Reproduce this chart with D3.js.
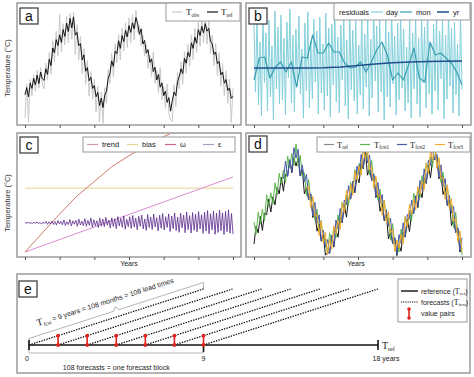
<!DOCTYPE html>
<html>
<head>
<meta charset="utf-8">
<script src="https://cdn.jsdelivr.net/npm/d3@7"></script>
<style>
  body { margin: 0; background: #fff; }
  svg { display: block; font-family: "Liberation Sans", Arial, sans-serif; }
</style>
</head>
<body>
<div id="chart"></div>
<script>
/* CONSTANTS */
const width = 474, height = 377;
const yearTicks = [0, 1, 2, 3, 4, 5, 6];

/* DATA */
// panel a: reference and observed temperature (°C)
const tRefA = [2.3,4.1,1.8,5.2,3.9,6.4,4.8,7.2,5.1,8.0,6.3,5.9,8.8,7.4,11.2,9.6,14.0,12.8,16.1,14.6,17.3,
  15.4,18.6,16.9,20.2,18.1,21.4,19.0,21.8,17.2,17.9,14.6,15.1,11.0,12.3,8.2,9.1,5.8,6.7,3.9,
  4.6,1.8,2.9,-0.4,1.5,-0.9,2.2,3.1,6.4,7.6,10.8,9.4,13.2,12.6,15.8,13.9,17.1,15.6,
  18.4,16.8,19.6,17.9,20.3,18.8,21.6,20.1,17.4,18.8,15.0,15.9,12.7,13.6,10.4,11.3,8.1,9.2,6.0,
  7.4,4.2,5.3,2.1,3.2,0.4,1.6,-1.8,0.9,3.0,2.1,5.6,6.9,8.8,7.6,11.4,10.2,12.9,11.8,15.3,13.9,
  16.7,15.2,18.6,17.1,19.4,17.8,20.1,18.2,18.9,15.7,15.1,12.4,13.0,10.1,10.6,7.3,8.0,5.2,6.1,3.4,4.0,1.4,1.9];
const tObsA = [-3.5,5.0,-4.6,6.1,2.0,7.3,3.2,8.4,4.0,9.1,5.0,3.8,10.2,6.1,12.9,7.4,15.8,10.6,18.2,12.1,22.5,
  13.0,20.1,14.8,21.9,15.3,22.6,16.2,23.0,12.4,19.8,11.0,16.9,7.5,13.8,4.9,10.9,2.0,8.1,1.2,
  6.2,-2.0,4.4,-4.5,3.0,-4.8,4.1,0.2,8.6,5.1,12.7,6.8,15.1,10.3,17.4,11.0,19.0,13.2,
  20.3,14.1,21.5,15.2,22.4,16.0,23.4,17.9,19.6,14.5,17.1,12.0,14.8,8.9,12.2,6.9,12.9,5.1,8.3,
  2.8,9.1,1.0,4.4,-1.1,5.0,-2.4,-4.0,-4.4,4.8,-0.6,7.9,3.8,10.5,4.9,13.1,7.7,15.0,9.4,17.2,11.1,
  18.9,12.8,20.6,14.4,21.7,15.3,22.1,15.0,21.0,12.6,17.2,9.6,15.1,7.0,12.8,4.4,10.2,2.1,8.3,0.2,6.2,-4.6,3.9];

// panel b: residuals
const resDay = [3.9,-2.8,4.6,-4.1,2.2,-5.2,5.0,-1.9,3.1,-4.7,4.4,-3.3,1.8,-5.6,5.3,-2.5,3.7,-4.0,4.9,-3.6,
  2.6,-5.1,4.2,-1.4,5.5,-3.9,2.9,-4.8,3.5,-2.2,4.8,-3.0,1.5,-5.4,4.1,-2.7,5.2,-4.4,2.3,-3.5,
  4.5,-1.8,3.3,-5.0,4.7,-2.9,2.0,-4.6,5.1,-3.2,3.6,-5.3,4.0,-2.1,5.4,-3.8,2.7,-4.9,3.9,-1.6,
  4.6,-4.2,2.4,-5.5,5.0,-2.6,3.4,-3.7,4.3,-5.0,1.9,-3.1,5.3,-4.5,3.0,-2.3,4.8,-5.2,2.5,-3.4,
  5.6,-1.7,3.8,-4.8,4.4,-2.8,2.1,-5.6,4.9,-3.3,3.2,-4.3,5.5,-2.0,2.8,-5.1,4.1,-3.6,5.2,-2.4,
  3.5,-4.7,1.7,-3.9,4.7,-5.4,3.1,-2.5,5.0,-4.0,2.6,-5.3,4.5,-1.9,3.7,-4.4,5.4,-3.0,2.2,-5.0,
  4.0,-2.7,5.1,-4.6,3.3,-1.5,4.6,-5.5,2.9,-3.5,5.3,-2.2,3.6,-4.9,4.2,-3.1,2.0,-5.2,4.8,-2.6];
const resMon = [-1.6,0.6,0.7,-1.4,-0.3,0.2,-0.8,0.2,-2.3,0.7,0.6,2.9,1.1,1.1,2.1,1.2,1.2,0.1,-0.4,-0.3,
  0.2,-0.8,0.2,1.4,2.2,0.9,-1.6,-0.9,-1.6,-0.1,1.6,-1.4,-1.8,2.2,0.9,1.1,0.6,0.1,-0.8,-2.1];
const resYr = [-0.4,-0.4,-0.4,-0.4,-0.38,-0.3,-0.15,0.0,0.12,0.2,0.25,0.28,0.3];

// panel c: components
const trendC = [0.0,1.7,3.4,5.0,6.3,7.6,8.6,9.5,10.3,11.0,11.6,12.1,12.5];
const biasC = [5.7, 5.7];
const omegaC = [0.0, 6.7];
const epsC = [2.62,2.58,2.65,2.56,2.61,2.55,2.67,2.57,2.70,2.52,2.64,2.49,2.66,2.55,2.73,2.47,2.69,2.51,2.76,2.46,
  2.72,2.40,2.81,2.50,2.74,2.43,2.86,2.37,2.70,2.45,2.90,2.33,2.78,2.48,2.84,2.29,2.93,2.41,2.75,2.36,
  2.98,2.30,2.82,2.39,3.04,2.22,2.88,2.35,2.79,2.19,3.02,2.31,2.94,2.26,3.10,2.40,2.86,2.14,3.05,2.28,
  2.97,2.09,3.16,2.33,3.00,2.20,3.22,2.04,2.92,2.27,3.14,2.11,3.26,2.23,3.03,1.99,3.19,2.30,3.30,2.06,
  2.95,1.94,3.34,2.18,3.11,2.01,3.38,2.24,3.07,1.88,3.29,2.12,3.44,1.97,3.15,2.20,3.40,1.83,3.21,2.08,
  3.49,1.91,3.12,1.76,3.46,2.15,3.30,1.72,3.57,2.00,3.25,1.69,3.52,1.95,3.38,1.80,3.61,2.06,3.33,1.66,
  3.55,1.86,3.70,1.62,3.41,1.98,3.66,1.58,3.47,1.74,3.73,1.90,3.50,1.55,3.63,1.81,3.76,1.68,3.44,1.60];

// panel d: reference and three forecasts (°C)
const tRefD = [-2.0,2.5,0.8,4.9,1.4,5.7,5.3,9.2,6.0,9.8,7.8,12.2,10.5,14.7,11.2,15.4,15.0,19.0,15.8,19.5,
  17.5,19.4,15.0,16.6,10.5,12.1,9.1,10.5,4.6,5.8,1.2,3.0,-1.3,0.3,-4.8,-4.2,-4.2,0.1,-2.8,1.4,
  -0.3,4.6,3.3,7.8,4.7,9.3,9.3,13.6,10.8,14.9,13.3,18.1,16.8,21.3,15.2,16.9,13.9,15.4,9.6,10.8,
  6.2,8.1,3.8,5.4,-0.7,1.1,-1.9,-0.5,-4.9,-2.2,-3.8,1.0,-0.3,4.2,1.1,5.7,5.7,10.0,7.1,11.3,
  9.6,14.5,13.1,17.7,14.5,19.2,19.1,20.3,14.3,15.2,10.4,12.1,7.6,8.9,2.6,4.1,0.9,2.0,-4.0,-3.0];
const fcst1D = [3.5,0.5,6.0,3.1,6.7,3.7,10.3,7.3,10.8,8.0,13.3,10.2,15.7,12.9,16.5,13.4,20.0,17.1,20.6,17.7,
  23.0,17.4,20.2,14.8,15.8,10.1,14.1,8.6,9.4,4.0,6.7,1.0,3.9,-1.5,-0.6,-4.5,0.8,-1.8,2.1,-0.4,
  5.3,2.6,8.5,6.0,10.2,7.7,13.4,10.7,16.6,14.1,18.1,15.4,22.4,19.8,20.7,15.3,18.9,13.5,14.4,9.0,
  11.7,6.1,9.0,3.6,4.6,-0.9,3.1,-2.4,-1.5,-4.0,1.7,-1.0,4.9,2.4,6.4,3.7,10.7,8.1,11.9,9.5,
  15.1,12.5,18.3,15.9,19.8,17.2,24.1,18.4,19.1,13.4,15.9,10.1,12.8,7.1,7.9,2.1,5.9,0.1,0.8,-4.8];
const fcst2Start = 14;
const fcst2D = [14.3,18.7,14.9,19.1,16.2,22.1,19.5,21.7,15.2,17.8,13.6,15.4,9.0,10.6,5.0,8.4,3.2,5.3,-1.1,1.5,
  -2.8,-0.9,-4.4,0.2,-2.4,4.0,1.8,6.9,3.5,9.0,7.8,12.6,9.2,13.7,11.2,17.5,15.3,20.4,17.0,22.5,
  18.3,20.2,13.8,15.5,10.0,13.4,8.2,10.4,4.0,6.6,2.4,4.4,-2.0,-0.4,-4.7,0.4,-1.8,3.3,-0.1,5.4,
  4.2,9.0,5.6,10.1,7.5,13.9,11.6,16.8,13.3,18.9,17.6,22.5,19.0,20.4,14.7,17.8,12.4,14.4,7.8,10.1,
  5.7,7.4,0.8,2.1,-3.6,-0.4];
const fcst3Start = 25;
const fcst3D = [11.7,12.6,7.1,9.9,4.9,5.4,0.1,3.8,-1.8,0.9,-4.6,-0.8,-3.3,2.6,0.5,4.0,1.7,8.4,5.7,11.5,
  8.9,12.8,10.2,16.1,14.0,17.5,15.2,21.9,19.2,22.0,16.5,17.4,12.0,14.9,9.9,10.4,5.2,8.9,3.3,6.1,
  0.7,1.6,-3.9,-1.0,-3.1,0.4,-1.9,4.8,2.1,7.9,5.3,9.2,6.6,12.4,10.4,13.8,11.6,18.2,15.6,21.3,
  18.8,24.2,16.9,19.6,14.3,14.6,9.2,12.7,6.8,9.4,3.7,4.4,-1.4,1.3,-3.9];

// panel e: forecast scheme (years)
const fcstStarts = [0, 1.5, 3, 4.5, 6, 7.5, 9];
const pairStarts = [0, 1.5, 3, 4.5, 6, 7.5];
const leadYears = 9;
const pairLead = 1.5;
const eTicks = [0, 9, 18];
const eTickLabels = ["0", "9", "18 years"];

/* LAYOUT */
const boxes = {
  a: { x0: 17, y0: 3, x1: 241, y1: 125 },
  b: { x0: 246, y0: 3, x1: 471, y1: 125 },
  c: { x0: 17, y0: 133, x1: 241, y1: 257 },
  d: { x0: 246, y0: 133, x1: 471, y1: 257 },
  e: { x0: 17, y0: 274, x1: 470, y1: 373 }
};
const serif = "Liberation Serif, Times New Roman, serif";
const frameColor = "#9a9a9a";

const svg = d3.select("#chart").append("svg")
  .attr("width", width)
  .attr("height", height);
const defs = svg.append("defs");

// scales
const xL = d3.scaleLinear().domain([0, 6]).range([25, 233]);
const xR = d3.scaleLinear().domain([0, 6]).range([254, 462]);
const yA = d3.scaleLinear().domain([-5, 25]).range([124, 4]);
const yB = d3.scaleLinear().domain([-6, 6]).range([124, 4]);
const yC = d3.scaleLinear().domain([0, 10]).range([252, 140]);
const yD = d3.scaleLinear().domain([-5, 25]).range([256, 136]);

function frame(key) {
  const b = boxes[key];
  svg.append("rect")
    .attr("x", b.x0).attr("y", b.y0)
    .attr("width", b.x1 - b.x0).attr("height", b.y1 - b.y0)
    .attr("fill", "#fff").attr("stroke", frameColor).attr("stroke-width", 1.5);
  defs.append("clipPath").attr("id", "clip-" + key)
    .append("rect")
    .attr("x", b.x0 + 1).attr("y", b.y0 + 1)
    .attr("width", b.x1 - b.x0 - 2).attr("height", b.y1 - b.y0 - 2);
  return svg.append("g").attr("clip-path", `url(#clip-${key})`);
}

function letter(key, x, y) {
  svg.append("rect").attr("x", x).attr("y", y).attr("width", 18).attr("height", 16)
    .attr("fill", "#fff").attr("stroke", "#444").attr("stroke-width", 1.3);
  svg.append("text").attr("x", x + 9).attr("y", y + 13)
    .attr("text-anchor", "middle").attr("font-size", 14).attr("fill", "#111")
    .text(key);
}

function ticks(x, key) {
  const g = svg.append("g")
    .attr("transform", `translate(0,${boxes[key].y1})`)
    .call(d3.axisBottom(x).tickValues(yearTicks).tickFormat("").tickSizeInner(3).tickSizeOuter(0));
  g.select(".domain").remove();
  g.selectAll("line").attr("stroke", "#555");
}

function seriesPath(g, vals, x, y, color, w, start = 0, total = vals.length) {
  const line = d3.line()
    .x((d, i) => x((start + i) * 6 / (total - 1)))
    .y(d => y(d));
  g.append("path").datum(vals)
    .attr("d", line)
    .attr("fill", "none").attr("stroke", color)
    .attr("stroke-width", w).attr("stroke-linejoin", "round");
}

function legendBox(x, y, w, h) {
  svg.append("rect").attr("x", x).attr("y", y).attr("width", w).attr("height", h)
    .attr("fill", "#fff").attr("stroke", frameColor).attr("stroke-width", 1);
}

function swatch(x0, x1, y, color, w = 1.2) {
  svg.append("line").attr("x1", x0).attr("x2", x1).attr("y1", y).attr("y2", y)
    .attr("stroke", color).attr("stroke-width", w);
}

function tSub(x, y, sub, size) {
  const t = svg.append("text").attr("x", x).attr("y", y)
    .attr("font-family", serif).attr("font-size", size).attr("fill", "#222");
  t.append("tspan").text("T");
  t.append("tspan").attr("font-size", size * 0.6).attr("dy", size * 0.22).text(sub);
  return t;
}

function label(x, y, txt, size = 7, anchor = "start") {
  return svg.append("text").attr("x", x).attr("y", y)
    .attr("font-size", size).attr("text-anchor", anchor).attr("fill", "#222")
    .text(txt);
}

function yTitle(cy) {
  svg.append("text")
    .attr("transform", `translate(9.5,${cy}) rotate(-90)`)
    .attr("text-anchor", "middle").attr("font-size", 7.5).attr("fill", "#333")
    .text("Temperature (°C)");
}

/* PANEL A */
const gA = frame("a");
seriesPath(gA, tObsA, xL, yA, "#c9c9c9", 1);
seriesPath(gA, tRefA, xL, yA, "#141414", 1);
ticks(xL, "a");
legendBox(166, 3, 74, 18);
swatch(172, 182, 12, "#c9c9c9");
tSub(186, 15, "obs", 9);
swatch(207, 218, 12, "#141414");
tSub(221, 15, "ref", 9);
letter("a", 20, 8);
yTitle(68);

/* PANEL B */
const gB = frame("b");
seriesPath(gB, resDay, xR, yB, "#84d0dc", 1);
seriesPath(gB, resMon, xR, yB, "#3a9fb2", 1.2);
seriesPath(gB, resYr, xR, yB, "#1f4f8a", 1.6);
ticks(xR, "b");
legendBox(334, 3, 136, 17);
label(339, 14.5, "residuals", 7.5);
swatch(371, 383, 12, "#84d0dc");
label(386, 14.5, "day", 7.5);
swatch(400, 412, 12, "#3a9fb2");
label(416, 14.5, "mon", 7.5);
swatch(437, 449, 12, "#1f4f8a", 1.5);
label(453, 14.5, "yr", 7.5);
letter("b", 249, 8);

/* PANEL C */
const gC = frame("c");
seriesPath(gC, biasC, xL, yC, "#e8d68e", 1);
seriesPath(gC, omegaC, xL, yC, "#d98ed4", 1);
seriesPath(gC, trendC, xL, yC, "#cf7b6b", 1);
seriesPath(gC, epsC, xL, yC, "#5b2a8c", 0.8);
ticks(xL, "c");
legendBox(83, 137, 152, 15);
swatch(87, 98, 144.5, "#cf9aa8");
label(102, 147, "trend", 7.5);
swatch(127, 138, 144.5, "#e8d68e");
label(142, 147, "bias", 7.5);
swatch(165, 176, 144.5, "#d26483");
label(180, 147, "ω", 7.5);
swatch(203, 214, 144.5, "#a79fc0");
label(218, 147, "ε", 7.5);
letter("c", 20, 137);
yTitle(203);
label(129, 266, "Years", 7, "middle");

/* PANEL D */
const gD = frame("d");
const nD = tRefD.length;
seriesPath(gD, tRefD, xR, yD, "#161616", 1);
seriesPath(gD, fcst1D, xR, yD, "#5cb84a", 1);
seriesPath(gD, fcst2D, xR, yD, "#4659ad", 1, fcst2Start, nD);
seriesPath(gD, fcst3D, xR, yD, "#f4a92a", 1, fcst3Start, nD);
ticks(xR, "d");
legendBox(317, 137, 153, 15);
swatch(324, 334, 144.5, "#8a8a8a");
tSub(337, 147.5, "ref", 8.5);
swatch(360, 370, 144.5, "#5cb84a");
tSub(374, 147.5, "fcst1", 8.5);
swatch(397, 407, 144.5, "#4659ad");
tSub(410, 147.5, "fcst2", 8.5);
swatch(435, 445, 144.5, "#f4a92a");
tSub(448, 147.5, "fcst3", 8.5);
letter("d", 249, 136);
label(356, 266, "Years", 7, "middle");

/* PANEL E */
frame("e");
const xE = d3.scaleLinear().domain([0, 18]).range([29, 378]);
const yE = d3.scaleLinear().domain([0, leadYears]).range([345, 289]);
const gE = svg.append("g");

// bracket above the first forecast
const bOff = 1.05;
const p0 = [xE(0), yE(bOff)], p1 = [xE(leadYears), yE(leadYears + bOff)];
const dx = p1[0] - p0[0], dy = p1[1] - p0[1], len = Math.hypot(dx, dy);
const nx = dy / len, ny = -dx / len;
const mid = [(p0[0] + p1[0]) / 2, (p0[1] + p1[1]) / 2];
gE.append("path")
  .attr("d", `M${xE(0)},${yE(0)}L${p0[0]},${p0[1]}L${mid[0] - dx / len * 3},${mid[1] - dy / len * 3}` +
    `L${mid[0] + nx * 4},${mid[1] + ny * 4}L${mid[0] + dx / len * 3},${mid[1] + dy / len * 3}` +
    `L${p1[0]},${p1[1]}L${xE(leadYears)},${yE(leadYears)}`)
  .attr("fill", "none").attr("stroke", "#b5b5b5").attr("stroke-width", 1);

const ang = Math.atan2(dy, dx) * 180 / Math.PI;
const tc = [mid[0] - dx / len * 8 + nx * 9, mid[1] - dy / len * 8 + ny * 9];
const tt = gE.append("text")
  .attr("transform", `translate(${tc[0]},${tc[1]}) rotate(${ang})`)
  .attr("text-anchor", "middle").attr("font-size", 7).attr("fill", "#222");
tt.append("tspan").attr("font-family", serif).attr("font-size", 10).text("T");
tt.append("tspan").attr("font-family", serif).attr("font-size", 5.5).attr("dy", 2).text("fcst");
tt.append("tspan").attr("dy", -2).text(" = 9 years = 108 months = 108 lead times");

// bracket under the forecast block
gE.append("path")
  .attr("d", `M${xE(0)},${yE(0) + 2}V${yE(0) + 8}H${xE(9)}V${yE(0) + 2}`)
  .attr("fill", "none").attr("stroke", "#b5b5b5").attr("stroke-width", 1);
label((xE(0) + xE(9)) / 2, 369.5, "108 forecasts = one forecast block", 7, "middle");

// forecasts
gE.selectAll("line.fcst").data(fcstStarts).join("line")
  .attr("class", "fcst")
  .attr("x1", d => xE(d)).attr("y1", yE(0))
  .attr("x2", d => xE(d + leadYears)).attr("y2", yE(leadYears))
  .attr("stroke", "#111").attr("stroke-width", 1.3).attr("stroke-dasharray", "1.4,1.2");

// reference
gE.append("line").attr("x1", xE(0)).attr("x2", xE(18)).attr("y1", yE(0)).attr("y2", yE(0))
  .attr("stroke", "#111").attr("stroke-width", 1.6);
gE.selectAll("line.cap").data([0, 18]).join("line").attr("class", "cap")
  .attr("x1", d => xE(d)).attr("x2", d => xE(d))
  .attr("y1", yE(0) - 5).attr("y2", yE(0) + 5)
  .attr("stroke", "#111").attr("stroke-width", 1.6);
gE.append("line").attr("x1", xE(9)).attr("x2", xE(9)).attr("y1", yE(0)).attr("y2", yE(0) + 7)
  .attr("stroke", "#111").attr("stroke-width", 1.6);
eTicks.forEach((t, i) => {
  label(xE(t) + (i === 0 ? -2 : i === 2 ? 8 : 0), 361, eTickLabels[i], 7, "middle");
});
tSub(xE(18) + 4, 349, "ref", 10);

// value pairs
const pairs = gE.selectAll("g.pair").data(pairStarts).join("g").attr("class", "pair");
pairs.append("line")
  .attr("x1", d => xE(d + pairLead)).attr("x2", d => xE(d + pairLead))
  .attr("y1", yE(0)).attr("y2", yE(pairLead))
  .attr("stroke", "#e0231d").attr("stroke-width", 1.6);
pairs.selectAll("circle").data(d => [[d + pairLead, 0], [d + pairLead, pairLead]]).join("circle")
  .attr("cx", d => xE(d[0])).attr("cy", d => yE(d[1])).attr("r", 1.9)
  .attr("fill", "#e0231d");

// legend e
legendBox(398, 279, 69, 43);
swatch(401, 418, 291, "#111", 1.4);
let lt = label(421, 293.5, "reference (", 7);
lt.append("tspan").attr("font-family", serif).attr("font-size", 8).text("T");
lt.append("tspan").attr("font-family", serif).attr("font-size", 5).attr("dy", 1.5).text("ref");
lt.append("tspan").attr("dy", -1.5).text(")");
svg.append("line").attr("x1", 401).attr("x2", 418).attr("y1", 302).attr("y2", 302)
  .attr("stroke", "#111").attr("stroke-width", 1.2).attr("stroke-dasharray", "1.2,1");
lt = label(421, 304.5, "forecasts (", 7);
lt.append("tspan").attr("font-family", serif).attr("font-size", 8).text("T");
lt.append("tspan").attr("font-family", serif).attr("font-size", 5).attr("dy", 1.5).text("fcst");
lt.append("tspan").attr("dy", -1.5).text(")");
svg.append("line").attr("x1", 409).attr("x2", 409).attr("y1", 309).attr("y2", 318)
  .attr("stroke", "#e0231d").attr("stroke-width", 1.6);
[309, 318].forEach(y => svg.append("circle").attr("cx", 409).attr("cy", y).attr("r", 1.8).attr("fill", "#e0231d"));
label(421, 316, "value pairs", 7);
letter("e", 19, 281);
</script>
</body>
</html>
